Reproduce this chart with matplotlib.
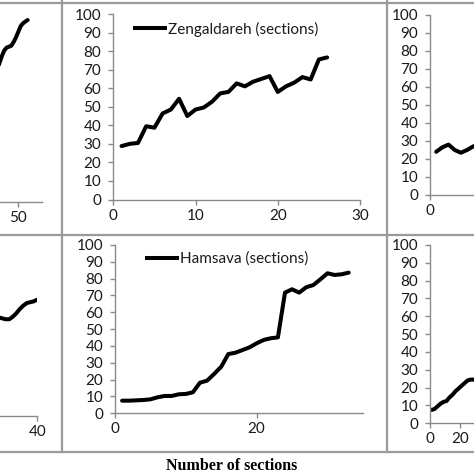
import matplotlib
matplotlib.use("Agg")
import matplotlib.pyplot as plt
from matplotlib.lines import Line2D

# ---------------- data ----------------
zeng_x = list(range(1, 27))
zeng_y = [28.8, 30, 30.5, 39.5, 38.7, 46.4, 48.5, 54.3, 45, 48.5, 49.6, 52.7, 57.2,
          58, 62.6, 61, 63.5, 65, 66.5, 58, 61, 63, 66, 64.7, 75.5, 76.6]

hams_x = list(range(1, 34))
hams_y = [7.5, 7.5, 7.7, 7.9, 8.3, 9.5, 10.3, 10.3, 11.3, 11.5, 12.5, 18.2, 19.4,
          23.4, 27.7, 35.2, 36, 37.6, 39.2, 41.6, 43.6, 44.6, 45.1, 71.7, 73.7,
          71.7, 74.9, 76.2, 79.6, 83.2, 82.2, 82.6, 83.6]

tl_x = [41, 42, 43, 44, 45, 46, 47, 48, 49, 50, 51, 52, 53, 54]
tl_y = [70, 74.5, 78, 81, 82.5, 83, 83.5, 85.5, 88, 91, 94, 95.5, 96.5, 97.3]

bl_x = [28, 29, 30, 31, 32, 33, 34, 35, 36, 37, 38, 39, 40]
bl_y = [58.5, 57.6, 57, 56.5, 56.5, 58, 60, 62.5, 64.5, 66, 66.5, 67, 68]

tr_x = [1, 2, 3, 4, 5, 6, 7, 8, 9]
tr_y = [24, 26.5, 28, 25, 23.5, 25, 27, 28, 28.5]

br_x = [1, 3, 5, 7, 9, 11, 13, 15, 17, 19, 21, 23, 25, 27, 29, 31]
br_y = [7.5, 8, 9.5, 11, 12, 12.5, 14.5, 16, 18, 19.5, 21, 22.5, 24, 24.5, 24.5, 25]

y_ticks = [0, 10, 20, 30, 40, 50, 60, 70, 80, 90, 100]

# ---------------- layout ----------------
W = H = 474
fig = plt.figure(figsize=(W / 100, H / 100), dpi=100)
fig.patch.set_facecolor("white")

FONT = "Lato"
AX_COL = "#8a8a8a"
TXT_COL = "#1a1a1a"


def add_ax(left, right, top, bottom):
    return fig.add_axes([left / W, 1 - bottom / H, (right - left) / W, (bottom - top) / H])


def style(ax, xlim, xticks, ylabels=True):
    ax.set_xlim(*xlim)
    ax.set_ylim(0, 100)
    ax.set_xticks(xticks)
    ax.set_yticks(y_ticks)
    for s in ("top", "right"):
        ax.spines[s].set_visible(False)
    for s in ("left", "bottom"):
        ax.spines[s].set_color(AX_COL)
        ax.spines[s].set_linewidth(1.0)
    ax.tick_params(axis="both", direction="out", length=3.6, width=1.0, color=AX_COL,
                   labelcolor=TXT_COL, labelsize=11)
    ax.tick_params(axis="y", pad=5, labelleft=ylabels)
    ax.tick_params(axis="x", pad=3)
    for lab in ax.get_xticklabels() + ax.get_yticklabels():
        lab.set_family(FONT)
    ax.patch.set_alpha(0)


def draw(ax, x, y, label=None):
    ax.plot(x, y, color="black", lw=2.9, solid_joinstyle="round",
            solid_capstyle="round", label=label)


# top-middle : Zengaldareh
ax1 = add_ax(113.3, 360, 14, 199.5)
style(ax1, (0, 30), [0, 10, 20, 30])
draw(ax1, zeng_x, zeng_y, "Zengaldareh (sections)")

# bottom-middle : Hamsava
ax2 = add_ax(115, 362.9, 245, 413.3)
style(ax2, (0, 35), [0, 20])
draw(ax2, hams_x, hams_y, "Hamsava (sections)")

# top-left (cut off)
ax3 = add_ax(-98.7, 41.7, 15, 201.5)
style(ax3, (0, 60), [50], ylabels=False)
draw(ax3, tl_x, tl_y)

# bottom-left (cut off)
ax4 = add_ax(-102.7, 37.3, 245, 415.7)
style(ax4, (0, 40), [40], ylabels=False)
draw(ax4, bl_x, bl_y)

# top-right (cut off)
ax5 = add_ax(430, 677, 15, 195)
style(ax5, (0, 40), [0])
draw(ax5, tr_x, tr_y)

# bottom-right (cut off)
ax6 = add_ax(430, 670, 245, 423.3)
style(ax6, (0, 160), [0, 20])
draw(ax6, br_x, br_y)


# legends
def legend(ax, px, py):
    lg = ax.legend(loc="center left", bbox_to_anchor=(px / W, 1 - py / H),
                   bbox_transform=fig.transFigure, frameon=False, borderpad=0,
                   borderaxespad=0, handlelength=2.2, handletextpad=0.1,
                   prop={"family": FONT, "size": 11})
    for t in lg.get_texts():
        t.set_color(TXT_COL)
    for h in lg.get_lines():
        h.set_linewidth(2.9)
        h.set_solid_capstyle("butt")


legend(ax1, 133, 29)
legend(ax2, 145, 259)

# panel borders
BCOL = "#9a9a9a"


def hline(y, x0=0, x1=W, lw=1.6):
    fig.add_artist(Line2D([x0 / W, x1 / W], [1 - y / H, 1 - y / H], color=BCOL, lw=lw,
                          transform=fig.transFigure))


def vline(x, y0, y1, lw=1.6):
    fig.add_artist(Line2D([x / W, x / W], [1 - y0 / H, 1 - y1 / H], color=BCOL, lw=lw,
                          transform=fig.transFigure))


hline(3)
hline(234.5)
hline(452)
vline(61.5, 0, 452)
vline(386.5, 0, 452)

# shared x label
fig.text(232 / W, 1 - 466 / H, "Number of sections", ha="center", va="center",
         family="Liberation Serif", fontweight="bold", fontsize=11.5, color="black")

fig.savefig("out.png", dpi=100, facecolor="white")
